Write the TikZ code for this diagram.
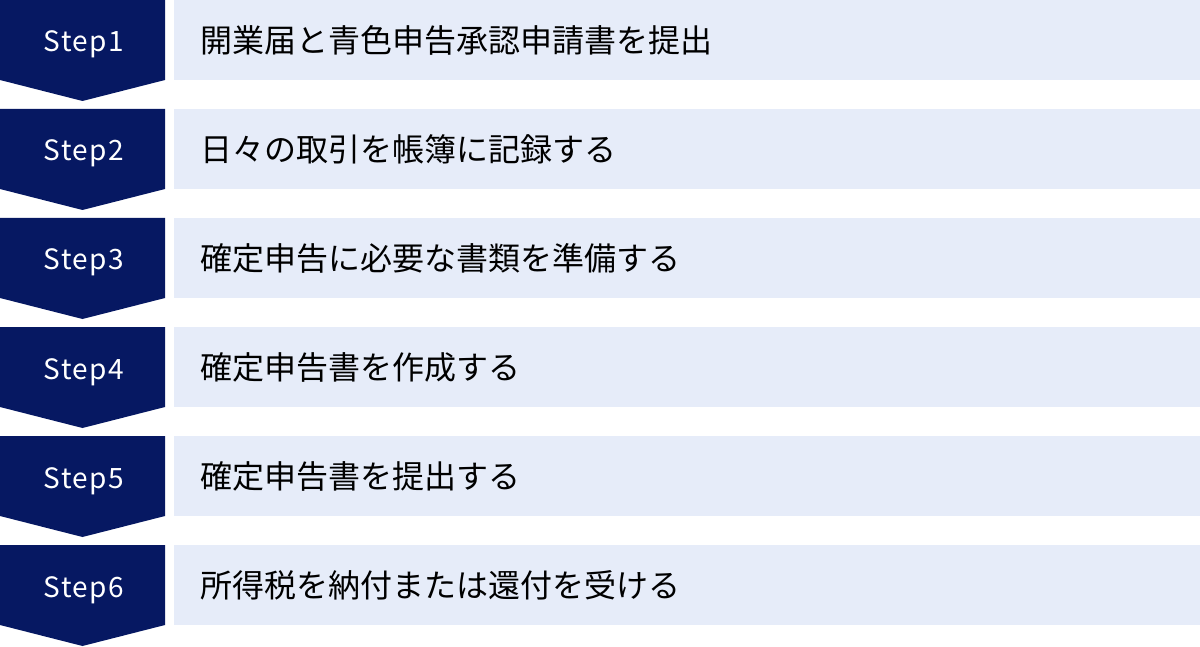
\documentclass[tikz,border=0pt]{standalone}
\usepackage{fontspec}
\newfontfamily\cjk{Noto Sans CJK JP}
\newfontfamily\stepfont[LetterSpace=5.5]{Noto Sans CJK JP}
\definecolor{navy}{RGB}{6,24,98}
\definecolor{lightbg}{RGB}{230,236,249}
\tikzset{
  x=1pt,y=1pt,
  steplabel/.style={text=white,font=\stepfont\fontsize{28}{32}\selectfont,inner sep=0pt,anchor=base},
  desc/.style={text=black,font=\cjk\fontsize{32}{38}\selectfont,inner sep=0pt,anchor=west},
}
\begin{document}
\begin{tikzpicture}
\useasboundingbox (0,0) rectangle (1200,-647);
\foreach \i/\t in {0/開業届と青色申告承認申請書を提出,1/日々の取引を帳簿に記録する,2/確定申告に必要な書類を準備する,3/確定申告書を作成する,4/確定申告書を提出する,5/所得税を納付または還付を受ける}{
  \pgfmathsetmacro{\yt}{-109*\i}
  \fill[navy] (0,\yt) -- (165,\yt) -- (165,\yt-80) -- (82.5,\yt-101) -- (0,\yt-80) -- cycle;
  \fill[lightbg] (174,\yt) rectangle (1200,\yt-80);
  \pgfmathtruncatemacro{\n}{\i+1}
  \node[steplabel] (step\n) at (84,\yt-52) {Step\n};
  \node[desc] (desc\n) at (200,\yt-40.5) {\t};
}
\end{tikzpicture}
\end{document}
